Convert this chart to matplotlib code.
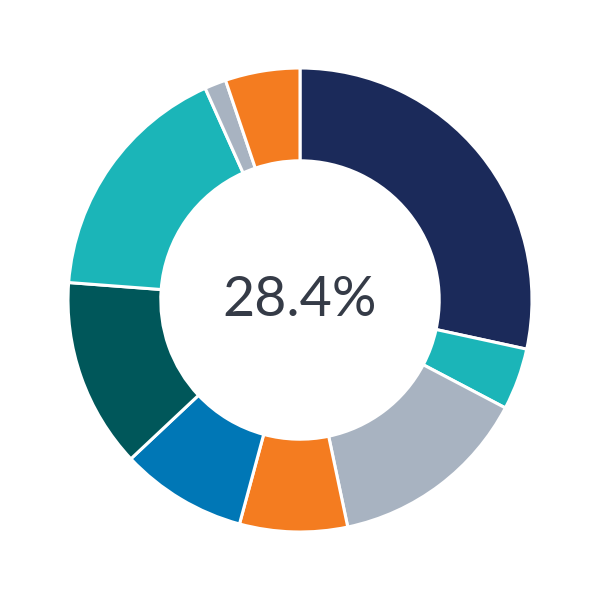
import matplotlib

matplotlib.use("Agg")
import matplotlib.pyplot as plt

# segment shares, clockwise from 12 o'clock
labels = ["A", "B", "C", "D", "E", "F", "G", "H", "I"]
shares = [28.4, 4.3, 14.0, 7.5, 8.8, 13.2, 17.1, 1.5, 5.2]
colors = ["#1B2A5A", "#1BB5B8", "#A8B3C1", "#F47C20", "#0077B6",
          "#00575A", "#1BB5B8", "#A8B3C1", "#F47C20"]
center_label = "28.4%"

fig = plt.figure(figsize=(6, 6), dpi=100)
ax = fig.add_axes([0, 0, 1, 1])
ax.pie(shares, colors=colors, startangle=90, counterclock=False,
       radius=1.0, wedgeprops=dict(width=0.4, edgecolor="white", linewidth=2.2))
lim = 300 / 232
ax.set_xlim(-lim, lim)
ax.set_ylim(-lim, lim)
ax.set_aspect("equal")
ax.axis("off")
ax.text(0, 0, center_label, ha="center", va="center", fontsize=40,
        color="#353B47", family="Lato")
fig.savefig("out.png", dpi=100)
